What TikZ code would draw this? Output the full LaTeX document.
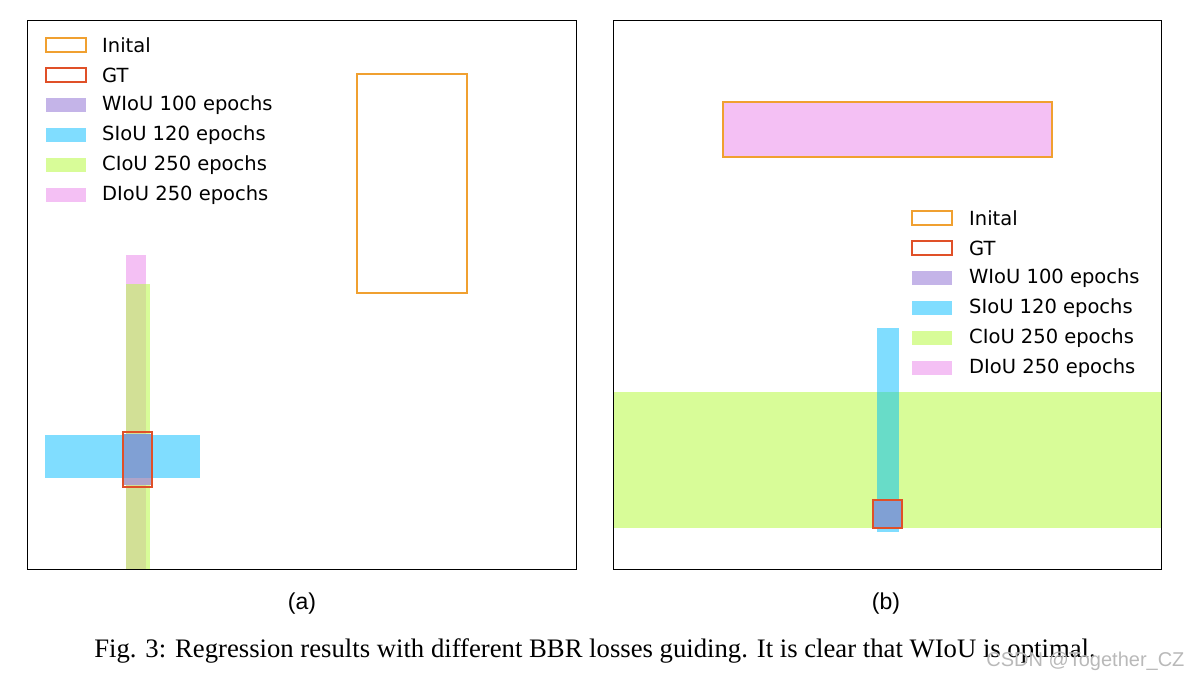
\documentclass[tikz,border=0pt]{standalone}
\usepackage{fontspec}
\setmainfont{Liberation Serif}
\newfontfamily\dv{DejaVu Sans}
\newfontfamily\ls{Liberation Sans}
\definecolor{cinit}{HTML}{F0A030}
\definecolor{cgt}{HTML}{E05028}
\definecolor{cw}{HTML}{C4B4E8}
\definecolor{cs}{HTML}{80DDFF}
\definecolor{cc}{HTML}{D8FC98}
\definecolor{cd}{HTML}{F4C0F4}
\definecolor{olive}{HTML}{D2E096}
\definecolor{mix}{HTML}{80A0D4}
\definecolor{teal}{HTML}{68DCC8}
\begin{document}
\begin{tikzpicture}[x=1pt,y=-1pt,
  frame/.style={draw=black,line width=1pt},
  leg/.style={anchor=west,font=\dv\fontsize{19.5}{22}\selectfont,inner sep=0},
  sw/.style={minimum width=40pt,minimum height=14pt,inner sep=0,line width=1.4pt}]
\useasboundingbox (0,0) rectangle (1192,680);
% panel a
\fill[cd] (126,255) rectangle (146,284);
\fill[cc] (126,284) rectangle (150,569);
\fill[olive] (126,284) rectangle (146,569);
\fill[cs] (45,435) rectangle (200,478);
\fill[mix] (124,434) rectangle (151,478);
\fill[cw!70!gray] (124,478) rectangle (151,485);
\draw[cgt,line width=1.5pt] (123,432) rectangle (152,487);
\draw[cinit,line width=1.5pt] (357,74) rectangle (467,293);
\node[frame,minimum width=549pt,minimum height=549pt,inner sep=0] (pa) at (301.5,294.5) {};
\foreach \c/\d/\t [count=\i from 0] in {none/cinit/Inital,none/cgt/GT,cw/none/WIoU 100 epochs,cs/none/SIoU 120 epochs,cc/none/CIoU 250 epochs,cd/none/DIoU 250 epochs}{
  \node[sw,fill=\c,draw=\d] (sa\i) at (66,45+30*\i) {};
  \node[leg] (la\i) at (102,45+30*\i) {\t};
}
% panel b
\fill[cc] (613,392) rectangle (1161,528);
\fill[cs] (877,328) rectangle (899,392);
\fill[teal] (877,392) rectangle (899,528);
\fill[cs] (877,528) rectangle (899,532);
\fill[mix] (874,501) rectangle (901,527);
\draw[cgt,line width=1.5pt] (873,500) rectangle (902,528);
\draw[cinit,line width=1.5pt,fill=cd] (723,102) rectangle (1052,157);
\node[frame,minimum width=548pt,minimum height=549pt,inner sep=0] (pb) at (887,294.5) {};
\foreach \c/\d/\t [count=\i from 0] in {none/cinit/Inital,none/cgt/GT,cw/none/WIoU 100 epochs,cs/none/SIoU 120 epochs,cc/none/CIoU 250 epochs,cd/none/DIoU 250 epochs}{
  \node[sw,fill=\c,draw=\d] (sb\i) at (932,218+30*\i) {};
  \node[leg] (lb\i) at (969,218+30*\i) {\t};
}
\node[font=\ls\fontsize{23}{26}\selectfont] (ca) at (302,604) {(a)};
\node[font=\ls\fontsize{23}{26}\selectfont] (cb) at (886,604) {(b)};
\node[font=\fontsize{26.7}{30}\selectfont] (cap) at (595,651) {Fig. 3: Regression results with different BBR losses guiding. It is clear that WIoU is optimal.};
\node[font=\ls\fontsize{20}{22}\selectfont,text=gray!55,anchor=east] (wm) at (1188,661) {CSDN @Together\_CZ};
\end{tikzpicture}
\end{document}
